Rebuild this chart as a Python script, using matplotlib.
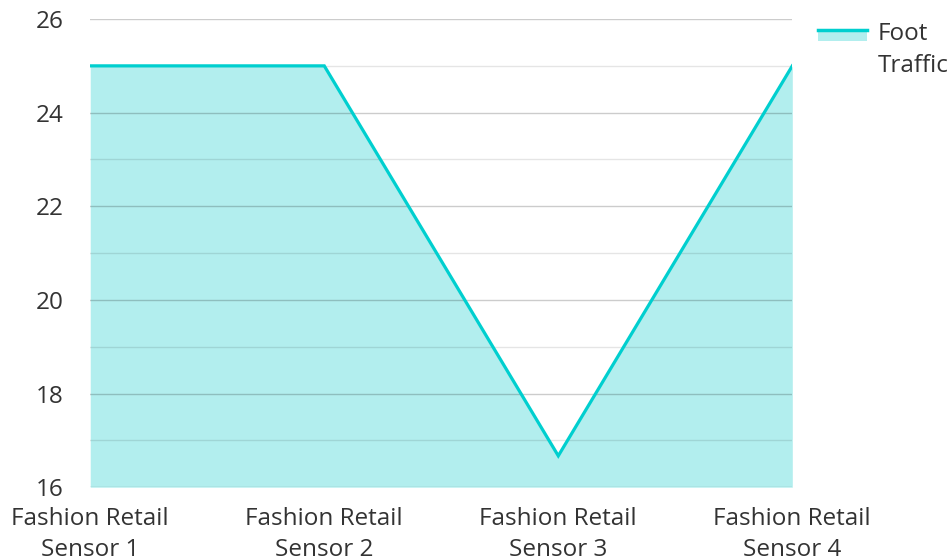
import matplotlib.pyplot as plt
from matplotlib.patches import Rectangle
from matplotlib.lines import Line2D
from matplotlib.legend_handler import HandlerBase
from matplotlib.ticker import MultipleLocator

plt.rcParams['font.family'] = ['Open Sans', 'DejaVu Sans']

sensors = ['Fashion Retail\nSensor 1', 'Fashion Retail\nSensor 2',
           'Fashion Retail\nSensor 3', 'Fashion Retail\nSensor 4']
foot_traffic = [25, 25, 16.67, 25]

line_col = '#00cfcf'
fill_col = '#b2eeee'
text_col = '#333333'


class AreaHandler(HandlerBase):
    # filled box with the line along its top edge
    def create_artists(self, legend, orig, xd, yd, w, h, fs, trans):
        top = yd + h * 1.7
        r = Rectangle((xd, top - h * 0.62), w, h * 0.62, facecolor=fill_col,
                      edgecolor='none', transform=trans)
        l = Line2D([xd, xd + w], [top, top], color=line_col, lw=2.5,
                   transform=trans)
        return [r, l]


fig = plt.figure(figsize=(9.5, 5.6), dpi=100)
ax = fig.add_axes([0.095, 0.130, 0.739, 0.836])

x = range(len(sensors))
ax.fill_between(x, foot_traffic, 16, color=fill_col, lw=0, zorder=1)
ax.plot(x, foot_traffic, color=line_col, lw=2.3, zorder=3, solid_joinstyle='miter')

ax.set_xlim(0, 3)
ax.set_ylim(16, 26)
ax.yaxis.set_major_locator(MultipleLocator(2))
ax.yaxis.set_minor_locator(MultipleLocator(1))
ax.grid(axis='y', which='major', color='black', alpha=0.2, lw=1, zorder=2)
ax.grid(axis='y', which='minor', color='black', alpha=0.1, lw=1, zorder=2)
ax.set_axisbelow(False)

ax.set_xticks(list(x))
ax.set_xticklabels(sensors, linespacing=1.35)
ax.tick_params(axis='both', which='both', length=0, labelsize=17.5, colors=text_col)
ax.tick_params(axis='x', pad=14.5)
ax.tick_params(axis='y', pad=19)
for s in ax.spines.values():
    s.set_visible(False)

leg = fig.legend(['area'], ['Foot\nTraffic'], loc='upper left',
                 bbox_to_anchor=(0.861, 0.96), frameon=False, fontsize=17.5,
                 handler_map={str: AreaHandler()}, borderpad=0, borderaxespad=0,
                 handlelength=2.0, handletextpad=0.45, labelcolor=text_col)
for t in leg.get_texts():
    t.set_linespacing(1.4)

fig.savefig('out.png', dpi=100)
